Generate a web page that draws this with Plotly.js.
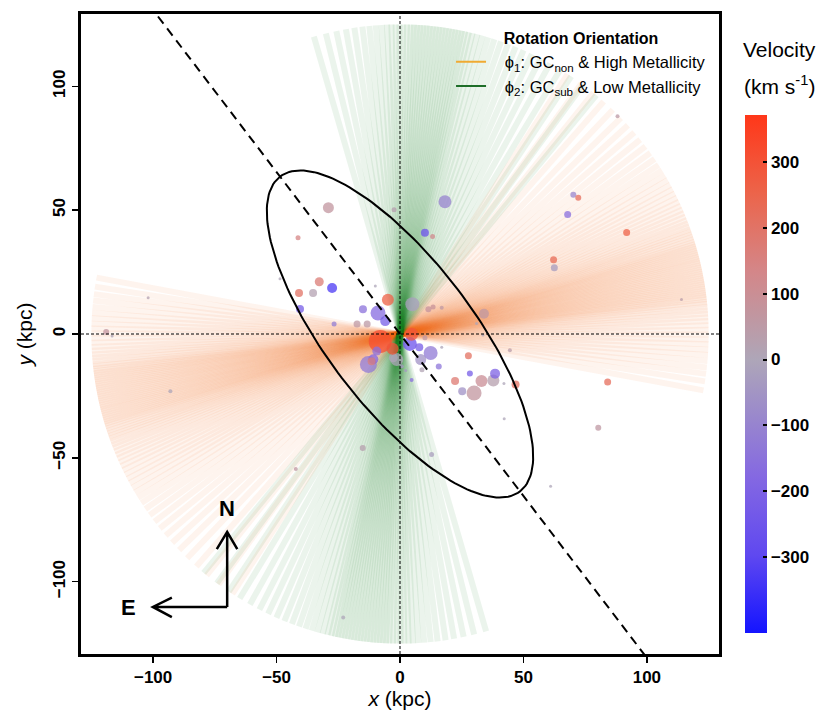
<!DOCTYPE html>
<html>
<head>
<meta charset="utf-8">
<script src="https://cdn.plot.ly/plotly-3.0.1.min.js"></script>
<style>
  html, body { margin: 0; padding: 0; background: #ffffff; }
  #chart { width: 840px; height: 720px; }
</style>
</head>
<body>
<div id="chart"></div>
<script>
// Rotation-axis samples, position angle in degrees (counter-clockwise from +x).
// Each sample is drawn as a full line through the centre.
const phi1Angles = [-10.5, -8.8, -7.4, -6.2, -5.0, -3.9, -2.9, -1.9, -1.0, -0.1, 0.8, 1.6,
  2.4, 3.1, 3.8, 4.4, 5.0, 5.6, 6.0, 6.5, 6.9, 7.3, 7.7, 8.1, 8.5, 8.9, 9.3, 9.7, 10.1, 10.5,
  10.9, 11.3, 11.7, 12.1, 12.5, 12.9, 13.3, 13.7, 14.1, 14.5, 14.9, 15.3, 15.7, 16.1, 16.5,
  16.9, 17.3, 17.8, 18.3, 18.8, 19.3, 19.8, 20.4, 21.0, 21.6, 22.3, 23.0, 23.7, 24.5, 25.3,
  26.1, 27.0, 27.9, 28.8, 29.8, 30.8, 31.9, 33.1, 34.4, 35.8, 37.3, 38.9, 40.6, 42.4, 44.3,
  46.4, 48.7, 51.2, 54.0, 57.1];
const phi2Angles = [50.5, 53.6, 56.3, 58.7, 60.9, 62.9, 64.7, 66.4, 68.0, 69.5, 70.9, 72.2,
  73.4, 74.5, 75.5, 76.4, 77.1, 77.8, 78.4, 79.0, 79.6, 80.2, 80.8, 81.4, 82.0, 82.6, 83.2,
  83.8, 84.4, 85.0, 85.6, 86.2, 86.8, 87.4, 88.0, 88.7, 89.4, 90.1, 90.8, 91.6, 92.4, 93.4,
  94.5, 95.7, 97.0, 98.5, 100.1, 101.9, 103.9, 106.2];
const rayLength = 125;   // kpc

// Globular clusters: projected position (kpc), line-of-sight velocity (km/s), symbol size
const gcX = [-29.0, -41.3, -2.4, -48.6, -32.7, -27.5, -40.9, -35.2, -40.5, -15.0, -4.9, -8.9,
  -26.7, -17.4, -13.3, -102.0, -119.0, -116.6, -10.0, 18.2, 10.1, 13.2, 88.1, 70.2, 72.2, 67.9,
  91.8, 62.2, 62.5, 114.0, 34.0, 5.0, 11.5, 13.4, 16.9, 31.0, 4.0, 7.8, 12.4, 8.4, 10.1, 16.9,
  15.7, 8.9, 4.7, 2.3, 27.7, 33.6, 44.5, 28.3, 22.3, 25.2, 30.0, 33.0, 37.8, 38.5, 42.1, 46.8,
  84.1, 80.3, 42.2, 12.8, 61.0, -93.0, -15.1, -42.2, -23.0, -12.8, -10.8, -6.0, -8.0, 4.7,
  -1.3, -9.4, -11.5, 0.7, -2.7, -3.0];
const gcY = [51.0, 38.9, 50.2, 22.3, 21.1, 18.6, 16.6, 16.6, 10.1, 10.0, 13.8, 8.5,
  4.0, 4.0, 4.0, 14.6, 0.8, -0.8, 19.4, 53.4, 40.9, 39.4, 87.9, 56.2, 55.0, 48.2,
  41.0, 30.0, 26.7, 13.9, 8.2, 12.0, 10.0, 10.9, 10.6, 4.2, -4.0, -5.3, -7.7, -10.3, -1.5, -5.3,
  -13.1, -14.4, -18.6, -14.7, -8.8, -0.4, -6.6, -15.9, -19.0, -23.1, -23.8, -19.0, -18.8, -16.0,
  -20.0, -20.4, -19.4, -37.9, -34.2, -48.7, -61.5, -23.1, -46.0, -54.5, -114.5, -12.3, -10.2,
  5.2, -3.0, -0.1, -10.3, -6.9, -11.0, -13.0, -9.6, -6.0];
const gcVel = [70, 140, 30, 0, 170, -330, 200, 20, -220, -150, 260, -170,
  -120, 60, 50, 20, 70, 0, 0, -100, -260, 120, 50, -90, 220, -160,
  260, 230, -30, 40, 60, -20, 80, 90, 60, 0, -260, -220, -130, -60, 60, 0,
  -140, 10, -160, -40, 210, 0, 40, -220, 180, -60, 70, 100, 30, -200,
  0, 210, 220, 60, 0, -20, 0, 0, 30, 60, 0, -130, -190,
  -220, 310, 290, 0, -160, 160, -40, 0, 300];
const gcSize = [11, 5, 5, 3, 9, 10, 8, 8, 8, 8, 12, 15,
  5, 7, 7, 3, 6, 3, 3, 13, 8, 5, 4, 6, 6, 7,
  7, 7, 7, 3, 10, 14, 6, 5, 4, 3, 14, 8, 14, 11, 5, 3,
  6, 5, 4, 3, 7, 3, 4, 6, 8, 8, 15, 12, 12, 10,
  3, 8, 7, 6, 3, 5, 3, 4, 6, 4, 4, 17, 10,
  10, 23, 13, 13, 9, 8, 4, 9, 12];

// Best-fit ellipse: semi-axes (kpc) and position angle of the major axis (deg)
const ellipseA = 80;
const ellipseB = 29.5;
const ellipsePA = 127.4;

const velTicks = [-300, -200, -100, 0, 100, 200, 300];
const axisTicks = [-100, -50, 0, 50, 100];

const phi1Colour = 'rgb(244,112,28)';
const phi2Colour = 'rgb(28,128,40)';
const font = 'Liberation Sans, Arial, Helvetica, sans-serif';
const deg = Math.PI / 180;

const traces = [];

function rayTrace(angle, colour, alpha, width) {
  const c = Math.cos(angle * deg), s = Math.sin(angle * deg);
  return {
    x: [-rayLength * c, rayLength * c],
    y: [-rayLength * s, rayLength * s],
    type: 'scatter', mode: 'lines',
    line: { color: colour, width: width },
    opacity: alpha, hoverinfo: 'skip', showlegend: false
  };
}
phi1Angles.forEach(a => traces.push(rayTrace(a, phi1Colour, 0.075, 6)));
phi2Angles.forEach(a => traces.push(rayTrace(a, phi2Colour, 0.085, 6)));

// clusters coloured by velocity
traces.push({
  x: gcX, y: gcY, type: 'scatter', mode: 'markers', showlegend: false,
  marker: {
    color: gcVel, size: gcSize, opacity: 0.75, line: { width: 0 },
    cmin: -416, cmax: 372,
    colorscale: [
      [0, 'rgb(20,20,255)'], [0.15, 'rgb(95,72,240)'], [0.3, 'rgb(132,104,226)'],
      [0.528, 'rgb(174,166,184)'], [0.7, 'rgb(212,134,136)'], [0.85, 'rgb(236,100,74)'],
      [1, 'rgb(255,55,25)']
    ],
    colorbar: {
      x: 1.0408, xanchor: 'left', xpad: 0, ypad: 0,
      y: 0.4375, yanchor: 'middle', len: 0.809, lenmode: 'fraction',
      thickness: 22, outlinewidth: 0,
      tickvals: velTicks, ticks: 'inside', ticklen: 4, tickwidth: 2, tickcolor: '#000',
      tickfont: { family: font, size: 17, color: '#000', weight: 'bold' }
    }
  }
});

// major axis of the ellipse
const lx = 200 * Math.cos(ellipsePA * deg), ly = 200 * Math.sin(ellipsePA * deg);
traces.push({
  x: [-lx, lx], y: [-ly, ly], type: 'scatter', mode: 'lines', showlegend: false,
  hoverinfo: 'skip', line: { color: '#000', width: 2, dash: '9px,6px' }
});

// ellipse outline
const ex = [], ey = [];
for (let i = 0; i <= 360; i += 2) {
  const t = i * deg, p = ellipsePA * deg;
  const u = ellipseA * Math.cos(t), v = ellipseB * Math.sin(t);
  ex.push(u * Math.cos(p) - v * Math.sin(p));
  ey.push(u * Math.sin(p) + v * Math.cos(p));
}
traces.push({
  x: ex, y: ey, type: 'scatter', mode: 'lines', showlegend: false,
  hoverinfo: 'skip', line: { color: '#000', width: 2 }
});

// legend entries
const pad = '\u00a0\u00a0\u00a0';
traces.push({
  x: [null], y: [null], type: 'scatter', mode: 'lines',
  name: pad + '\u03d5<sub>1</sub>: GC<sub>non</sub> &amp; High Metallicity',
  line: { color: 'rgb(240,170,50)', width: 2 }
});
traces.push({
  x: [null], y: [null], type: 'scatter', mode: 'lines',
  name: pad + '\u03d5<sub>2</sub>: GC<sub>sub</sub> &amp; Low Metallicity',
  line: { color: 'rgb(30,110,40)', width: 2 }
});

const axisBase = {
  range: [-129.2, 129.2], tickvals: axisTicks, ticks: 'outside', ticklen: 6, tickwidth: 1.5,
  tickcolor: '#000', showgrid: false, zeroline: false, showline: true, mirror: true,
  linecolor: '#000', linewidth: 3,
  tickfont: { family: font, size: 17, color: '#000', weight: 'bold' }
};

const layout = {
  width: 840, height: 720,
  margin: { l: 81, r: 121, t: 14, b: 66 },
  paper_bgcolor: '#fff', plot_bgcolor: '#fff',
  font: { family: font, color: '#000' },
  xaxis: Object.assign({}, axisBase, {
    title: { text: '<i>x</i> (kpc)', font: { family: font, size: 21 }, standoff: 2 }
  }),
  yaxis: Object.assign({}, axisBase, {
    tickangle: -90,
    title: { text: '<i>y</i> (kpc)', font: { family: font, size: 21 }, standoff: 12 }
  }),
  showlegend: true,
  legend: {
    x: 0.58, y: 0.985, xanchor: 'left', yanchor: 'top',
    bgcolor: 'rgba(0,0,0,0)', borderwidth: 0,
    font: { family: font, size: 16.5, color: '#000' },
    title: { text: '<b>Rotation Orientation</b>', side: 'top center',
             font: { family: font, size: 16 } },
    tracegroupgap: 0, itemwidth: 30
  },
  shapes: [
    { type: 'line', xref: 'x', yref: 'paper', x0: 0, x1: 0, y0: 0, y1: 1,
      line: { color: '#000', width: 1, dash: '3px,2px' } },
    { type: 'line', xref: 'paper', yref: 'y', x0: 0, x1: 1, y0: 0, y1: 0,
      line: { color: '#000', width: 1, dash: '3px,2px' } },
    // compass: north and east arrows
    { type: 'path', xref: 'x', yref: 'y',
      path: 'M -70 -110.2 L -70 -79.9 M -74.2 -86.9 L -70 -79.9 L -65.9 -86.9',
      line: { color: '#000', width: 2.5 } },
    { type: 'path', xref: 'x', yref: 'y',
      path: 'M -70 -110.2 L -100.1 -110.2 M -92.4 -106.4 L -100.1 -110.2 L -92.4 -114.3',
      line: { color: '#000', width: 2.5 } }
  ],
  annotations: [
    { x: -70, y: -70.6, xref: 'x', yref: 'y', text: '<b>N</b>', showarrow: false,
      font: { family: font, size: 22, color: '#000' } },
    { x: -110.1, y: -110.6, xref: 'x', yref: 'y', text: '<b>E</b>', showarrow: false,
      font: { family: font, size: 22, color: '#000' } },
    { x: 1.0956, y: 0.944, xref: 'paper', yref: 'paper', xanchor: 'center', yanchor: 'middle',
      text: 'Velocity', showarrow: false, font: { family: font, size: 21, color: '#000' } },
    { x: 1.0956, y: 0.889, xref: 'paper', yref: 'paper', xanchor: 'center', yanchor: 'middle',
      text: '(km s<sup>-1</sup>)', showarrow: false,
      font: { family: font, size: 21, color: '#000' } }
  ]
};

Plotly.newPlot('chart', traces, layout, { displayModeBar: false, staticPlot: true });
</script>
</body>
</html>
